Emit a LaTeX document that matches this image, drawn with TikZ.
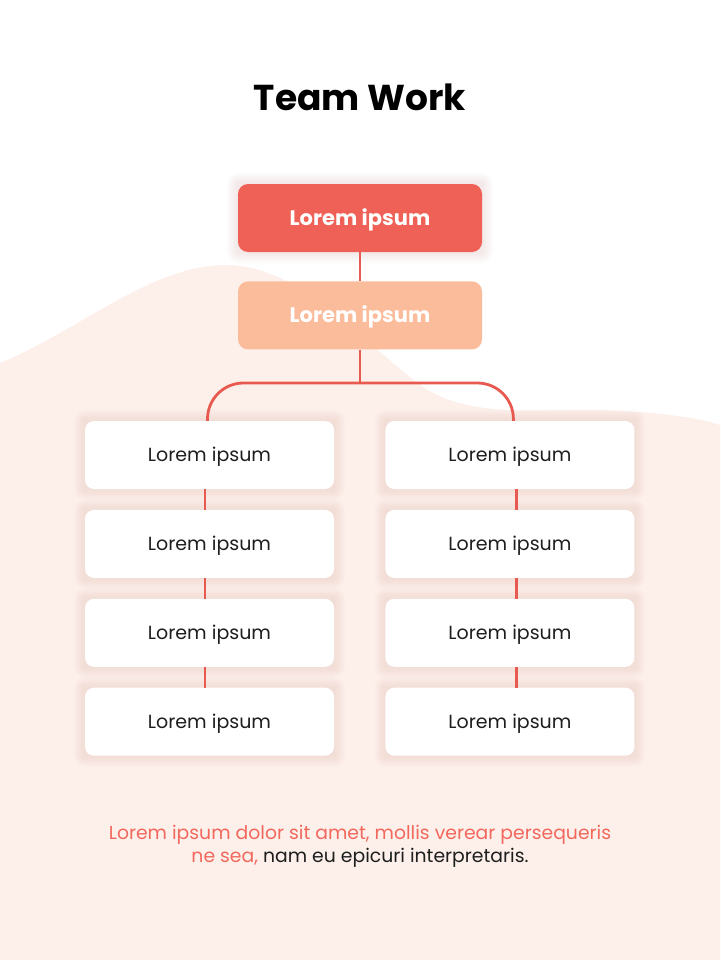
\documentclass[tikz,border=0pt]{standalone}
\usepackage{fontspec}
\setmainfont{Poppins}
\usetikzlibrary{positioning,backgrounds}
\definecolor{coral}{HTML}{EF6156}
\definecolor{peach}{HTML}{FBBC9C}
\definecolor{blush}{HTML}{FDF0EB}
\definecolor{linkred}{HTML}{E85A50}
\definecolor{textred}{HTML}{F2685D}
\definecolor{ink}{HTML}{1E1E1E}
\definecolor{haze}{HTML}{EFA49A}

\begin{document}
\begin{tikzpicture}[x=1pt,y=-1pt,node distance=20.5pt,
    box/.style={minimum width=244pt,minimum height=68pt,rounded corners=10pt,inner sep=0pt,text height=14.6pt,text depth=0pt,text=white,font=\fontsize{21}{24}\selectfont\bfseries},
    member/.style={fill=white,minimum width=249pt,minimum height=68pt,rounded corners=9pt,inner sep=0pt,text height=13.3pt,text depth=0pt,text=ink,font=\fontsize{19}{22}\selectfont},
    glow/.style={fill=haze,opacity=0.016},
    link/.style={draw=linkred,line width=2.8pt}]
    \useasboundingbox (0,0) rectangle (720,960);

    \node[font=\fontsize{36}{42}\selectfont\bfseries] (title) at (360,97) {Team Work};

    \node[box,fill=coral] (lead) at (360,218) {Lorem ipsum};
    \node[box,fill=peach,below=29pt of lead] (colead) {Lorem ipsum};

    \node[member] (l1) at (209.5,455) {Lorem ipsum};
    \node[member,below=of l1] (l2) {Lorem ipsum};
    \node[member,below=of l2] (l3) {Lorem ipsum};
    \node[member,below=of l3] (l4) {Lorem ipsum};
    \node[member,right=51pt of l1] (r1) {Lorem ipsum};
    \node[member,below=of r1] (r2) {Lorem ipsum};
    \node[member,below=of r2] (r3) {Lorem ipsum};
    \node[member,below=of r3] (r4) {Lorem ipsum};

    \coordinate (fork) at (360,383);
    \draw[link] (lead) -- (colead);
    \draw[link] (colead) -- (fork);
    \draw[link,rounded corners=36pt] ([xshift=-2pt]l1.north) |- (fork) -| ([xshift=3.5pt]r1.north);
    \foreach \a/\b in {l1/l2,l2/l3,l3/l4}
      \draw[link] ([xshift=-4.5pt]\a.south) -- ([xshift=-4.5pt]\b.north);
    \foreach \a/\b in {r1/r2,r2/r3,r3/r4}
      \draw[link] ([xshift=6.5pt]\a.south) -- ([xshift=6.5pt]\b.north);

    \node[align=center,text=textred,font=\fontsize{18.8}{23}\selectfont] (note) at (360,846)
      {Lorem ipsum dolor sit amet, mollis verear persequeris\\ne sea, \textcolor{ink}{nam eu epicuri interpretaris.}};

    % page, wave and soft glow behind the boxes
    \begin{scope}[on background layer]
      \fill[white] (0,0) rectangle (720,960);
      \fill[blush] (0,363) .. controls (80,330) and (150,266) .. (225,265)
        .. controls (300,265) and (360,340) .. (420,385)
        .. controls (470,420) and (540,408) .. (600,410)
        .. controls (660,412) and (700,418) .. (720,425)
        -- (720,960) -- (0,960) -- cycle;
      \foreach \n in {lead,l1,l2,l3,l4,r1,r2,r3,r4}
        \foreach \g [evaluate=\g as \r using 9+\g] in {1,...,11}
          \fill[glow,rounded corners=\r pt]
            ([shift={(-\g pt,-\g pt)}]\n.south west) rectangle ([shift={(\g pt,\g pt)}]\n.north east);
    \end{scope}
  \end{tikzpicture}
\end{document}
